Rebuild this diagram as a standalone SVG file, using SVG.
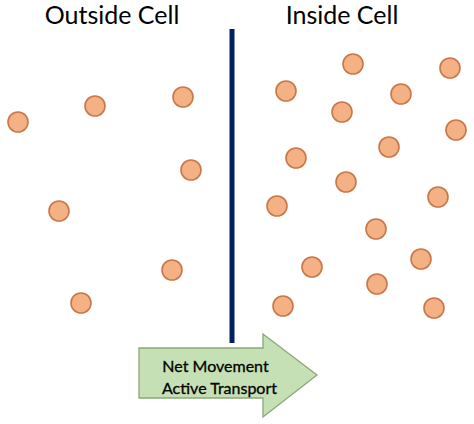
<svg xmlns="http://www.w3.org/2000/svg" width="474" height="424" viewBox="0 0 474 424">
<style>
.p{fill:#F4B183;stroke:#C8774A;stroke-width:1.6}
.t{font-family:Lato,"Open Sans","Liberation Sans",sans-serif;fill:#000}
.title{font-size:25px}
.lbl{font-size:16px;stroke:#000;stroke-width:0.3}
</style>
<rect width="474" height="424" fill="#fff"/>
<g id="title-outside"><text class="t title" x="112" y="24" text-anchor="middle">Outside Cell</text></g>
<g id="title-inside"><text class="t title" x="342" y="24" text-anchor="middle">Inside Cell</text></g>
<g id="membrane"><line x1="232" y1="29" x2="232" y2="343" stroke="#002060" stroke-width="5"/></g>
<g id="outside-particles">
<circle class="p" cx="18" cy="122" r="10"/>
<circle class="p" cx="95" cy="106" r="10"/>
<circle class="p" cx="183" cy="97" r="10"/>
<circle class="p" cx="191" cy="170" r="10"/>
<circle class="p" cx="59" cy="211" r="10"/>
<circle class="p" cx="172" cy="270" r="10"/>
<circle class="p" cx="81" cy="303" r="10"/>
</g>
<g id="inside-particles">
<circle class="p" cx="286" cy="91" r="10"/>
<circle class="p" cx="353" cy="64" r="10"/>
<circle class="p" cx="450" cy="68" r="10"/>
<circle class="p" cx="401" cy="94" r="10"/>
<circle class="p" cx="342" cy="112" r="10"/>
<circle class="p" cx="456" cy="130" r="10"/>
<circle class="p" cx="296" cy="158" r="10"/>
<circle class="p" cx="389" cy="147" r="10"/>
<circle class="p" cx="346" cy="182" r="10"/>
<circle class="p" cx="277" cy="206" r="10"/>
<circle class="p" cx="438" cy="197" r="10"/>
<circle class="p" cx="376" cy="229" r="10"/>
<circle class="p" cx="421" cy="259" r="10"/>
<circle class="p" cx="312" cy="267" r="10"/>
<circle class="p" cx="377" cy="284" r="10"/>
<circle class="p" cx="283" cy="306" r="10"/>
<circle class="p" cx="434" cy="308" r="10"/>
</g>
<g id="arrow">
<polygon points="139,348 263,348 263,334 317,375 263,417 263,398 139,398" fill="#C5E0B4" stroke="#8AA876" stroke-width="1.3"/>
<text class="t lbl" x="215.5" y="372" text-anchor="middle">Net Movement</text>
<text class="t lbl" x="219.5" y="394" text-anchor="middle">Active Transport</text>
</g>
</svg>
